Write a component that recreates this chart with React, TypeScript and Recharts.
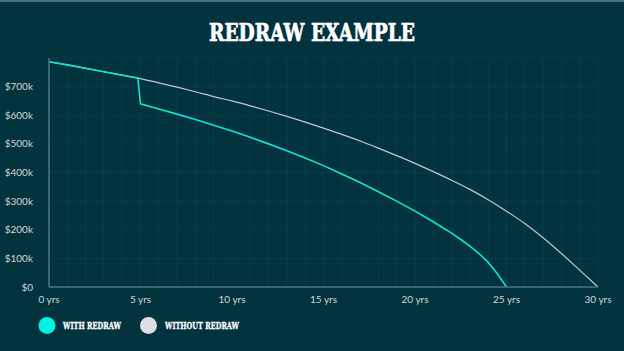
import React from "react";
import { LineChart, Line, XAxis, YAxis, CartesianGrid } from "recharts";

const title = "REDRAW EXAMPLE";
const seriesNames = ["WITH REDRAW", "WITHOUT REDRAW"];

const yearTicks = [0, 1, 2, 3, 4, 5, 6, 7, 8, 9, 10, 11, 12, 13, 14, 15, 16, 17, 18, 19, 20, 21, 22, 23, 24, 25, 26, 27, 28, 29, 30];
const valueTicks = [0, 100000, 200000, 300000, 400000, 500000, 600000, 700000];

// Without redraw: balance by year (thousands)
const withoutYears = [0, 1, 2, 3, 4, 5, 6, 7, 8, 9, 10, 11, 12, 13, 14, 15, 16, 17, 18, 19, 20, 21, 22, 23, 24, 25, 26, 27, 28, 29, 30];
const withoutValues = [787, 776, 764, 752, 740, 728, 713, 698, 682, 665, 650, 633, 615, 596, 576, 555, 533, 510, 485, 459, 432, 403, 373, 341, 305, 265, 222, 172, 117, 59, 0];

// With redraw: lump sum redrawn around year 5
const withYears = [0, 1, 2, 3, 4, 4.85, 5, 6, 7, 8, 9, 10, 11, 12, 13, 14, 15, 16, 17, 18, 19, 20, 21, 21.5, 22, 22.5, 23, 23.5, 24, 24.5, 25];
const withValues = [787, 776, 764, 752, 740, 730, 640, 622, 604, 585, 565, 545, 523, 500, 476, 451, 424, 395, 365, 333, 300, 265, 228, 208, 188, 166, 143, 117, 86, 46, 0];

const withData = withYears.map((t, i) => ({ t, v: withValues[i] * 1000 }));
const withoutData = withoutYears.map((t, i) => ({ t, v: withoutValues[i] * 1000 }));

const BG = "#02333f";
const CYAN = "#14e2d2";
const GREY = "#c3c7cf";
const CYAN_DOT = "#00f2e2";
const GREY_DOT = "#dedde4";
const TICK = "#d2d6da";
const GRID = "#0a3d49";
const AXIS = "#4d7580";

const slab = "'DejaVu Serif Condensed', 'DejaVu Serif', serif";

export default function App() {
  return (
    <div
      style={{
        position: "fixed",
        left: 0,
        top: 0,
        width: 624,
        height: 351,
        background: BG,
        overflow: "hidden",
      }}
    >
      <div style={{ position: "absolute", left: 0, top: 0, width: 624, height: 2, background: "#46707a" }} />
      <svg width={624} height={351} style={{ position: "absolute", left: 0, top: 0 }}>
        <text
          x={312}
          y={41}
          textAnchor="middle"
          fill="#ffffff"
          stroke="#ffffff"
          strokeWidth={0.7}
          fontFamily={slab}
          fontWeight={700}
          fontSize={25}
          textLength={206}
          lengthAdjust="spacingAndGlyphs"
        >
          {title}
        </text>
        <circle cx={47} cy={325.5} r={8.5} fill={CYAN_DOT} />
        <text x={63} y={329} fill="#ffffff" stroke="#ffffff" strokeWidth={0.3} fontFamily={slab} fontWeight={700} fontSize={10} textLength={58} lengthAdjust="spacingAndGlyphs">
          {seriesNames[0]}
        </text>
        <circle cx={148.5} cy={325.5} r={8.5} fill={GREY_DOT} />
        <text x={165} y={329} fill="#ffffff" stroke="#ffffff" strokeWidth={0.3} fontFamily={slab} fontWeight={700} fontSize={10} textLength={74} lengthAdjust="spacingAndGlyphs">
          {seriesNames[1]}
        </text>
      </svg>
      <div style={{ position: "absolute", left: 0, top: 0 }}>
        <LineChart width={624} height={351} margin={{ top: 58, right: 26, bottom: 34, left: 0 }}>
          <CartesianGrid stroke={GRID} strokeWidth={1} />
          <XAxis
            dataKey="t"
            type="number"
            domain={[0, 30]}
            ticks={yearTicks}
            interval={0}
            allowDuplicatedCategory={false}
            tickFormatter={(v: number) => (v % 5 === 0 ? `${v} yrs` : "")}
            tick={{ fill: TICK, fontSize: 10, fontFamily: "Lato, sans-serif" }}
            tickLine={false}
            axisLine={{ stroke: AXIS, strokeWidth: 1.5 }}
            height={30}
            tickMargin={3}
          />
          <YAxis
            dataKey="v"
            type="number"
            domain={[0, 800000]}
            ticks={valueTicks}
            interval={0}
            tickFormatter={(v: number) => (v === 0 ? "$0" : `$${v / 1000}k`)}
            tick={{ fill: TICK, fontSize: 10, fontFamily: "Lato, sans-serif" }}
            tickLine={false}
            axisLine={{ stroke: AXIS, strokeWidth: 1.5 }}
            width={49}
            tickMargin={10}
          />
          <Line
            data={withoutData}
            dataKey="v"
            type="monotone"
            stroke={GREY}
            strokeWidth={1.2}
            dot={false}
            isAnimationActive={false}
          />
          <Line
            data={withData}
            dataKey="v"
            type="linear"
            stroke={CYAN}
            strokeWidth={1.6}
            dot={false}
            isAnimationActive={false}
          />
        </LineChart>
      </div>
    </div>
  );
}
